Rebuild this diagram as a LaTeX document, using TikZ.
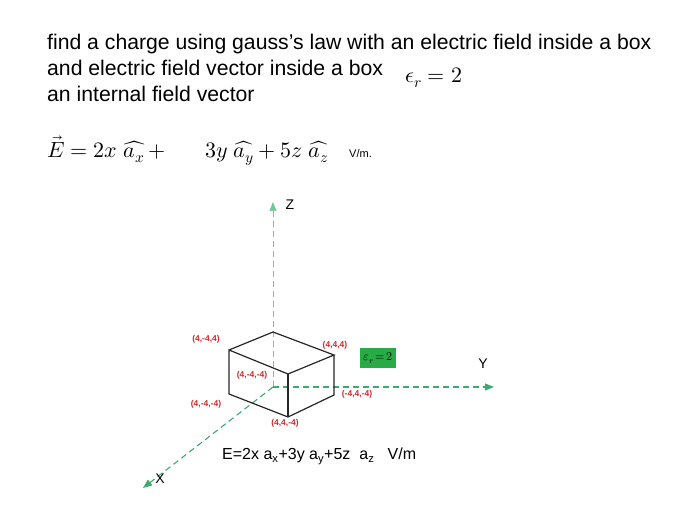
\documentclass[tikz,border=0pt]{standalone}
\usepackage{fontspec}
\setmainfont{Liberation Sans}
\usepackage{unicode-math}
\setmathfont{Latin Modern Math}
\usetikzlibrary{arrows.meta}
\definecolor{axgreen}{RGB}{60,170,110}
\definecolor{lblred}{RGB}{210,40,40}
\definecolor{boxgreen}{RGB}{40,170,70}
\tikzset{
  hdr/.style={anchor=base west,inner sep=0pt,font=\fontsize{21.2}{23}\selectfont},
  mth/.style={anchor=base west,inner sep=0pt,font=\fontsize{22}{24}\selectfont},
  axis/.style={axgreen,dash pattern=on 6pt off 4pt,line width=1.1pt,-{Triangle[length=9pt,width=7pt]}},
  edge/.style={black!85,line width=1.2pt},
  lbl/.style={lblred,font=\bfseries\fontsize{8.5}{9}\selectfont,inner sep=1pt},
  axl/.style={font=\fontsize{14}{15}\selectfont,inner sep=0pt}
}
\begin{document}
\begin{tikzpicture}[x=1pt,y=-1pt]
\useasboundingbox (0,0) rectangle (700,522);
\node[hdr] (t1) at (47,49) {find a charge using gauss's law with an electric field inside a box};
\node[hdr] (t2) at (47,75) {and electric field vector inside a box};
\node[mth] (er) at (405,82) {$\epsilon_r=2$};
\node[hdr] (t3) at (47,101) {an internal field vector};
\node[mth] (e1) at (47,157) {$\vec{E}=2x\;\widehat{a_x}\,+$};
\node[mth] (e2) at (205,157) {$3y\;\widehat{a_y}+5z\;\widehat{a_z}$};
\node[anchor=base west,inner sep=0pt,font=\fontsize{11}{12}\selectfont] (vm) at (349,157) {V/m.};
% axes
\coordinate (O) at (273,387);
\coordinate (Zt) at (273,202);
\coordinate (Yt) at (494,387);
\coordinate (Xt) at (143,488);
\draw[axis,line width=0.7pt,axgreen!70] (O) -- (Zt);
\draw[axis] (O) -- (Yt);
\draw[axis] (O) -- (Xt);
\node[axl] (zl) at (290,205) {Z};
\node[axl] (yl) at (483,364) {Y};
\node[axl] (xl) at (160,479) {X};
% box
\coordinate (tb) at (273,332);
\coordinate (tl) at (229,350);
\coordinate (tr) at (334,355);
\coordinate (ft) at (288,374);
\coordinate (bl) at (229,394);
\coordinate (fb) at (288,417);
\coordinate (br) at (334,395);
\draw[edge] (tl) -- (tb) -- (tr) -- (ft) -- (tl) -- (bl) -- (fb) -- (br) -- (tr);
\draw[edge] (ft) -- (fb);
\node[lbl] (l1) at (206,339) {(4,-4,4)};
\node[lbl] (l2) at (335,345) {(4,4,4)};
\node[lbl] (l3) at (252,375) {(4,-4,-4)};
\node[lbl] (l4) at (206,404) {(4,-4,-4)};
\node[lbl] (l5) at (357,394) {(-4,4,-4)};
\node[lbl] (l6) at (285,423) {(4,4,-4)};
\node[fill=boxgreen,minimum width=36pt,minimum height=20pt,inner sep=0pt,font=\fontsize{12}{13}\selectfont] (eps) at (378,358) {$\varepsilon_r\!=\!2$};
\node[anchor=base west,inner sep=0pt,font=\fontsize{16}{17}\selectfont] (cap) at (222,459) {E=2x a$_\mathrm{x}$+3y a$_\mathrm{y}$+5z\ \ a$_\mathrm{z}$\ \ \ V/m};
\end{tikzpicture}
\end{document}
